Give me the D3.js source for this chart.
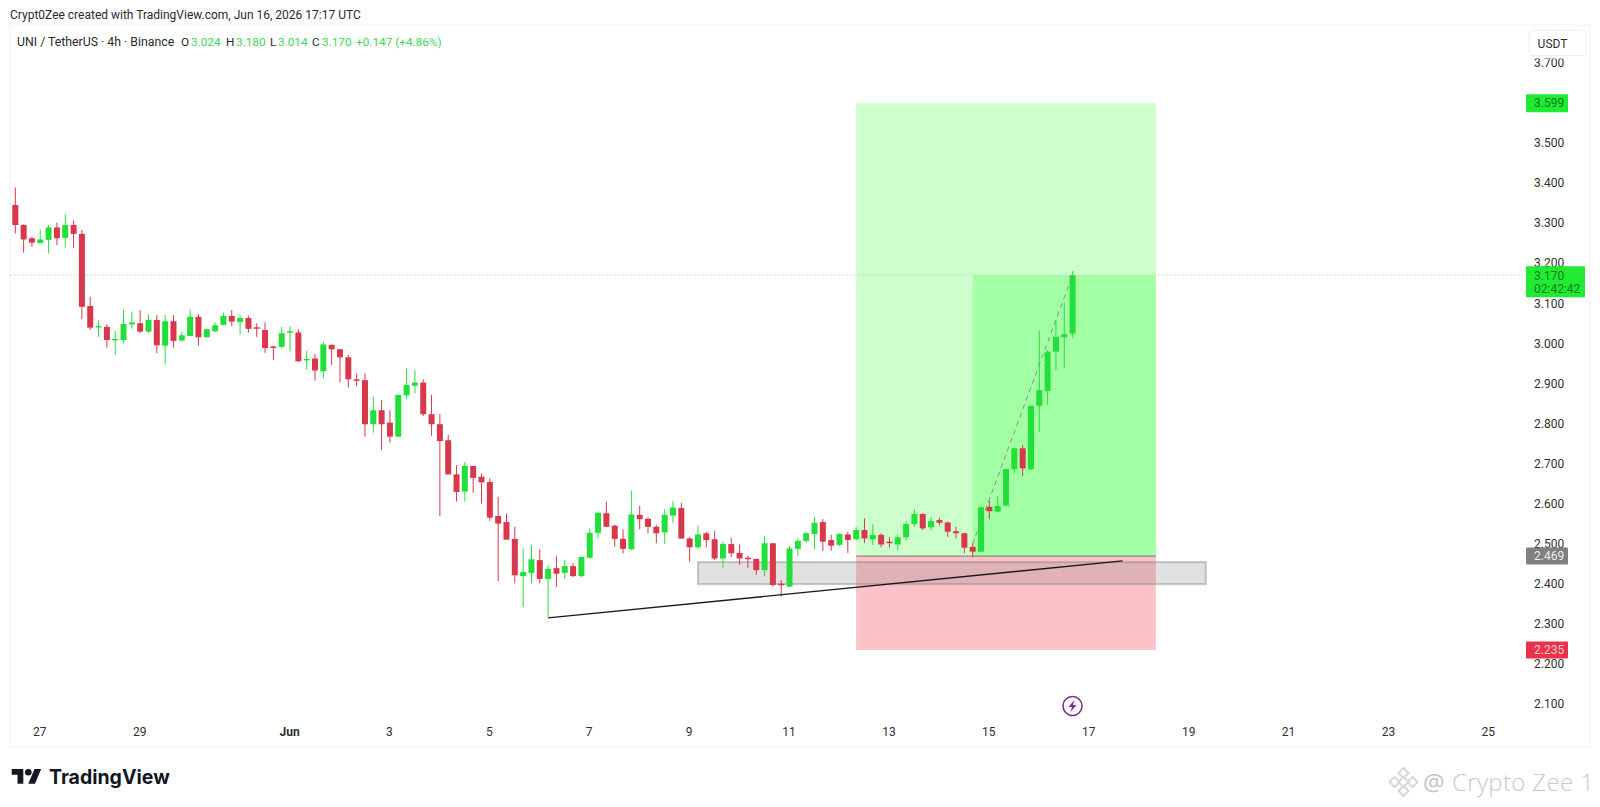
<!DOCTYPE html>
<html>
<head>
<meta charset="utf-8">
<script src="https://cdn.jsdelivr.net/npm/d3@7"></script>
<style>
  html, body { margin: 0; padding: 0; background: #fff; }
  svg { display: block; }
  text { font-family: Roboto, "Noto Sans", sans-serif; }
</style>
</head>
<body>
<div id="chart"></div>
<script>
// 4h candles, first one opens May 26 12:00 UTC
const firstCandle = "2026-05-26T12:00:00Z";
const opens = [
  3.345, 3.295, 3.262, 3.250, 3.258, 3.289, 3.263, 3.295, 3.273, 3.093,
  3.040, 3.041, 3.008, 3.008, 3.047, 3.050, 3.029, 3.058, 2.994, 3.055,
  3.007, 3.018, 3.066, 3.015, 3.030, 3.046, 3.068, 3.053, 3.063, 3.040,
  3.033, 2.992, 2.991, 3.029, 3.027, 2.958, 2.962, 2.930, 2.996, 2.985,
  2.965, 2.910, 2.908, 2.798, 2.833, 2.802, 2.767, 2.870, 2.894, 2.902,
  2.823, 2.798, 2.758, 2.673, 2.630, 2.694, 2.667, 2.654, 2.569, 2.554,
  2.512, 2.419, 2.427, 2.459, 2.412, 2.439, 2.427, 2.444, 2.419, 2.465,
  2.527, 2.576, 2.545, 2.512, 2.486, 2.572, 2.562, 2.542, 2.528, 2.570,
  2.589, 2.513, 2.491, 2.526, 2.511, 2.463, 2.499, 2.477, 2.465, 2.462,
  2.434, 2.501, 2.400, 2.393, 2.487, 2.507, 2.524, 2.554, 2.509, 2.497,
  2.523, 2.511, 2.534, 2.511, 2.522, 2.505, 2.498, 2.516, 2.549, 2.574,
  2.541, 2.559, 2.553, 2.531, 2.526, 2.492, 2.480, 2.592, 2.580, 2.595,
  2.686, 2.738, 2.686, 2.844, 2.881, 2.979, 3.015, 3.024
];
const highs = [
  3.389, 3.297, 3.266, 3.284, 3.295, 3.301, 3.322, 3.306, 3.283, 3.116,
  3.058, 3.048, 3.031, 3.083, 3.079, 3.083, 3.072, 3.070, 3.070, 3.070,
  3.029, 3.084, 3.072, 3.037, 3.051, 3.076, 3.083, 3.070, 3.069, 3.050,
  3.052, 2.994, 3.041, 3.043, 3.035, 2.981, 2.973, 3.004, 2.997, 2.986,
  2.971, 2.925, 2.925, 2.867, 2.858, 2.833, 2.872, 2.937, 2.933, 2.910,
  2.871, 2.823, 2.771, 2.696, 2.704, 2.694, 2.675, 2.663, 2.617, 2.575,
  2.542, 2.488, 2.496, 2.486, 2.446, 2.469, 2.459, 2.452, 2.467, 2.538,
  2.580, 2.605, 2.547, 2.536, 2.632, 2.594, 2.566, 2.547, 2.586, 2.607,
  2.602, 2.517, 2.545, 2.530, 2.532, 2.505, 2.515, 2.498, 2.470, 2.463,
  2.519, 2.502, 2.409, 2.494, 2.513, 2.530, 2.567, 2.561, 2.522, 2.526,
  2.530, 2.542, 2.563, 2.548, 2.526, 2.516, 2.522, 2.555, 2.586, 2.576,
  2.566, 2.565, 2.555, 2.542, 2.527, 2.501, 2.592, 2.607, 2.619, 2.688,
  2.739, 2.746, 2.846, 3.031, 2.983, 3.058, 3.101, 3.180
];
const lows = [
  3.274, 3.226, 3.241, 3.249, 3.224, 3.245, 3.239, 3.238, 3.060, 3.033,
  3.016, 2.989, 2.971, 3.000, 3.037, 3.025, 3.025, 2.975, 2.948, 2.989,
  3.004, 3.018, 2.994, 3.014, 3.027, 3.045, 3.043, 3.022, 3.026, 3.016,
  2.976, 2.958, 2.987, 2.980, 2.953, 2.935, 2.907, 2.912, 2.946, 2.902,
  2.890, 2.893, 2.767, 2.777, 2.734, 2.752, 2.767, 2.860, 2.875, 2.818,
  2.769, 2.569, 2.673, 2.605, 2.605, 2.627, 2.600, 2.557, 2.406, 2.510,
  2.401, 2.342, 2.402, 2.401, 2.317, 2.392, 2.412, 2.417, 2.417, 2.463,
  2.513, 2.541, 2.493, 2.476, 2.484, 2.536, 2.526, 2.501, 2.499, 2.551,
  2.512, 2.455, 2.488, 2.491, 2.459, 2.440, 2.467, 2.447, 2.440, 2.422,
  2.419, 2.393, 2.368, 2.391, 2.469, 2.502, 2.486, 2.482, 2.482, 2.494,
  2.477, 2.509, 2.502, 2.497, 2.491, 2.491, 2.484, 2.509, 2.542, 2.534,
  2.534, 2.545, 2.517, 2.513, 2.476, 2.466, 2.480, 2.561, 2.578, 2.593,
  2.675, 2.669, 2.684, 2.779, 2.846, 2.933, 2.939, 3.014
];
const closes = [
  3.295, 3.259, 3.251, 3.259, 3.289, 3.262, 3.295, 3.273, 3.091, 3.039,
  3.043, 3.008, 3.011, 3.048, 3.052, 3.029, 3.058, 2.995, 3.055, 3.006,
  3.020, 3.066, 3.015, 3.035, 3.045, 3.068, 3.054, 3.063, 3.036, 3.038,
  2.988, 2.991, 3.025, 3.030, 2.955, 2.961, 2.932, 2.997, 2.985, 2.965,
  2.910, 2.908, 2.798, 2.833, 2.798, 2.767, 2.871, 2.896, 2.902, 2.823,
  2.798, 2.756, 2.673, 2.629, 2.694, 2.664, 2.653, 2.565, 2.550, 2.510,
  2.421, 2.429, 2.461, 2.412, 2.437, 2.425, 2.444, 2.419, 2.467, 2.527,
  2.577, 2.542, 2.512, 2.487, 2.573, 2.561, 2.542, 2.526, 2.572, 2.590,
  2.513, 2.491, 2.523, 2.509, 2.463, 2.499, 2.476, 2.463, 2.463, 2.434,
  2.501, 2.397, 2.397, 2.488, 2.507, 2.526, 2.552, 2.505, 2.495, 2.524,
  2.509, 2.534, 2.513, 2.522, 2.498, 2.502, 2.516, 2.549, 2.574, 2.538,
  2.556, 2.552, 2.530, 2.526, 2.490, 2.480, 2.591, 2.581, 2.594, 2.686,
  2.738, 2.688, 2.844, 2.883, 2.979, 3.016, 3.023, 3.170
];

const priceTicks = [2.1, 2.2, 2.3, 2.4, 2.5, 2.6, 2.7, 2.8, 2.9, 3.0, 3.1, 3.2, 3.3, 3.4, 3.5, 3.6, 3.7];
const dateTicks = ["05-27", "05-29", "06-01", "06-03", "06-05", "06-07", "06-09", "06-11", "06-13", "06-15", "06-17", "06-19", "06-21", "06-23", "06-25"];
const dateLabels = ["27", "29", "Jun", "3", "5", "7", "9", "11", "13", "15", "17", "19", "21", "23", "25"];

// long position tool
const entryPrice = 2.469, targetPrice = 3.599, stopPrice = 2.235, lastPrice = 3.170, moveStart = 2.499;
const posStart = "2026-06-12T08:00:00Z", posEntryBar = "2026-06-14T16:00:00Z", posEnd = "2026-06-18T08:00:00Z";
// support box and trend line
const boxTimes = ["2026-06-09T04:00:00Z", "2026-06-19T08:00:00Z"], boxPrices = [2.454, 2.399];
const trendTimes = ["2026-06-06T04:00:00Z", "2026-06-17T16:00:00Z"], trendPrices = [2.315, 2.457];

const headerParts = ["O", "3.024", "H", "3.180", "L", "3.014", "C", "3.170", "+0.147 (+4.86%)"];
const headerX = [181, 191, 226, 236, 270, 278, 312, 322, 356];

const GREEN = "#22e03a", RED = "#d8384c", TAG_GREEN = "#20ea32";

const svg = d3.select("#chart").append("svg").attr("width", 1600).attr("height", 807);

const t0 = new Date(firstCandle);
const hour = 3600e3;
const candleTime = i => new Date(+t0 + i * 4 * hour);

const x = d3.scaleUtc()
  .domain([t0, candleTime(127)])
  .range([15.3, 1072.6]);
const y = d3.scaleLinear().domain([2.1, 3.7]).range([704, 62.7]);

// frame
svg.append("rect").attr("x", 10).attr("y", 25).attr("width", 1580).attr("height", 722)
  .attr("fill", "#fff").attr("stroke", "#f0f1f3");

// position zones
const px0 = x(new Date(posStart)), px1 = x(new Date(posEnd)), pxE = x(new Date(posEntryBar));
svg.append("rect").attr("x", px0).attr("width", px1 - px0)
  .attr("y", y(targetPrice)).attr("height", y(entryPrice) - y(targetPrice))
  .attr("fill", "rgba(0,255,0,0.2)");
svg.append("rect").attr("x", pxE).attr("width", px1 - pxE)
  .attr("y", y(lastPrice)).attr("height", y(entryPrice) - y(lastPrice))
  .attr("fill", "rgba(0,255,0,0.2)");
svg.append("rect").attr("x", px0).attr("width", px1 - px0)
  .attr("y", y(entryPrice)).attr("height", y(stopPrice) - y(entryPrice))
  .attr("fill", "rgba(242,54,69,0.3)");

// support box
svg.append("rect")
  .attr("x", x(new Date(boxTimes[0]))).attr("width", x(new Date(boxTimes[1])) - x(new Date(boxTimes[0])))
  .attr("y", y(boxPrices[0])).attr("height", y(boxPrices[1]) - y(boxPrices[0]))
  .attr("fill", "rgba(128,128,128,0.24)")
  .attr("stroke", "rgba(128,128,128,0.42)").attr("stroke-width", 2);

// entry line
svg.append("line").attr("x1", px0).attr("x2", px1)
  .attr("y1", y(entryPrice)).attr("y2", y(entryPrice))
  .attr("stroke", "#7d7272").attr("stroke-width", 1);

// last price line
svg.append("line").attr("x1", 10).attr("x2", 1526)
  .attr("y1", y(lastPrice)).attr("y2", y(lastPrice))
  .attr("stroke", "#b5cfb8").attr("stroke-width", 1).attr("stroke-dasharray", "1.5 2.5");

// candles
const candles = opens.map((o, i) => ({ t: candleTime(i), o, h: highs[i], l: lows[i], c: closes[i] }));
const bodyW = 6;

const g = svg.selectAll(".candle").data(candles).enter().append("g").attr("class", "candle");
g.append("line")
  .attr("x1", d => x(d.t)).attr("x2", d => x(d.t))
  .attr("y1", d => y(d.h)).attr("y2", d => y(d.l))
  .attr("stroke", d => d.c >= d.o ? GREEN : RED).attr("stroke-width", 1);
g.append("rect")
  .attr("x", d => x(d.t) - bodyW / 2).attr("width", bodyW)
  .attr("y", d => y(Math.max(d.o, d.c)))
  .attr("height", d => Math.max(1.5, Math.abs(y(d.o) - y(d.c))))
  .attr("fill", d => d.c >= d.o ? GREEN : RED);

// dashed move line
svg.append("line")
  .attr("x1", pxE).attr("y1", y(moveStart))
  .attr("x2", x(candleTime(127))).attr("y2", y(lastPrice))
  .attr("stroke", "#7f9a80").attr("stroke-width", 1).attr("stroke-dasharray", "5 4");

// trend line
svg.append("line")
  .attr("x1", x(new Date(trendTimes[0]))).attr("y1", y(trendPrices[0]))
  .attr("x2", x(new Date(trendTimes[1]))).attr("y2", y(trendPrices[1]))
  .attr("stroke", "#1a1a1a").attr("stroke-width", 1.4);

// axes
const yAxis = d3.axisRight(y).tickValues(priceTicks).tickSize(0).tickPadding(0).tickFormat(d3.format(".3f"));
const gy = svg.append("g").attr("transform", "translate(1534,0)").call(yAxis);
gy.select(".domain").remove();
gy.selectAll("text").attr("fill", "#2f2f2f").style("font-size", "12px").style("font-family", "Roboto, sans-serif");

const xTickDates = dateTicks.map(d => new Date("2026-" + d + "T00:00:00Z"));
const xAxis = d3.axisBottom(x).tickValues(xTickDates).tickSize(0).tickPadding(0)
  .tickFormat((d, i) => dateLabels[i]);
const gx = svg.append("g").attr("transform", "translate(-1,727.5)").call(xAxis);
gx.select(".domain").remove();
gx.selectAll("text").attr("fill", "#2f2f2f").style("font-size", "12px").style("font-family", "Roboto, sans-serif")
  .style("font-weight", (d, i) => dateLabels[i] === "Jun" ? 700 : 400);

// price labels
function priceTag(price, label, bg, fg, w, h) {
  const cy = y(price);
  svg.append("rect").attr("x", 1526).attr("y", cy - h / 2).attr("width", w).attr("height", h)
    .attr("rx", 1).attr("fill", bg);
  svg.append("text").attr("x", 1534).attr("y", cy + 4.3).attr("fill", fg).attr("font-size", 12).text(label);
}
priceTag(targetPrice, "3.599", TAG_GREEN, "#157a20", 42, 18);
priceTag(entryPrice, "2.469", "#808080", "#ececec", 42, 17);
priceTag(stopPrice, "2.235", "#e8334a", "#f8c5cb", 42, 17);

const lastY = y(lastPrice);
svg.append("rect").attr("x", 1526).attr("y", lastY - 9).attr("width", 59).attr("height", 31)
  .attr("rx", 1).attr("fill", TAG_GREEN);
svg.append("text").attr("x", 1534).attr("y", lastY + 4.5).attr("fill", "#157a20").attr("font-size", 12).text("3.170");
svg.append("text").attr("x", 1534).attr("y", lastY + 18).attr("fill", "#157a20").attr("font-size", 12).text("02:42:42");

// currency button, its white halo cuts the top of the 3.700 label
svg.append("rect").attr("x", 1526).attr("y", 28).attr("width", 63).attr("height", 30.5).attr("fill", "#fff");
svg.append("rect").attr("x", 1529).attr("y", 30.5).attr("width", 57).attr("height", 25)
  .attr("rx", 4).attr("fill", "#fff").attr("stroke", "#eceef2");
svg.append("text").attr("x", 1552.5).attr("y", 47.5).attr("text-anchor", "middle")
  .attr("fill", "#2f2f2f").attr("font-size", 12).text("USDT");

// header
svg.append("text").attr("x", 10).attr("y", 19).attr("fill", "#2a2a2a").attr("font-size", 12)
  .text("Crypt0Zee created with TradingView.com, Jun 16, 2026 17:17 UTC");
svg.append("text").attr("x", 17).attr("y", 46).attr("fill", "#2a2a2a").attr("font-size", 12.3)
  .text("UNI / TetherUS · 4h · Binance");
svg.selectAll(".hdr").data(headerParts).enter().append("text").attr("class", "hdr")
  .attr("x", (d, i) => headerX[i]).attr("y", 46).attr("font-size", 11.8)
  .attr("fill", (d, i) => (i < 8 && i % 2 === 0) ? "#2a2a2a" : "#3fd457")
  .text(d => d);

// events icon
const ev = svg.append("g").attr("transform", "translate(1072.5,706)");
ev.append("circle").attr("r", 9.5).attr("fill", "#fff").attr("stroke", "#7b2d9e").attr("stroke-width", 1.6);
ev.append("path").attr("d", "M2,-6 L-4,1 L-0.5,1 L-2,6 L4,-1 L0.5,-1 Z").attr("fill", "#7b2d9e");

// TradingView logo
const logo = svg.append("g").attr("transform", "translate(11.7,765.6) scale(0.83)").attr("fill", "#131722");
logo.append("path").attr("d", "M14 22H7V11H0V4h14v18zM28 22h-8l7.5-18h8L28 22z");
logo.append("circle").attr("cx", 20).attr("cy", 8).attr("r", 4);
svg.append("text").attr("x", 49).attr("y", 784).attr("fill", "#131722")
  .style("font-family", "Inter, sans-serif").style("font-size", "19.5px").style("font-weight", 700)
  .text("TradingView");

// watermark
const wm = svg.append("g").attr("transform", "translate(1403.5,782)").attr("fill", "#fff")
  .attr("stroke", "#d6d6d6").attr("stroke-width", 2);
[[0, -9], [-9, 0], [9, 0], [0, 9], [0, 0]].forEach(p => {
  wm.append("path").attr("transform", `translate(${p[0]},${p[1]})`).attr("d", "M0,-5 L5,0 L0,5 L-5,0 Z");
});
svg.append("text").attr("x", 1423).attr("y", 791).attr("fill", "#c4c4c4")
  .style("font-family", "'Open Sans', sans-serif").style("font-size", "24px").style("font-weight", 400)
  .text("@");
svg.append("text").attr("x", 1452).attr("y", 791).attr("fill", "#c9c9c9")
  .style("font-family", "'Open Sans', sans-serif").style("font-size", "24px").style("font-weight", 300)
  .style("letter-spacing", "0.35px")
  .text("Crypto Zee 1");
</script>
</body>
</html>
